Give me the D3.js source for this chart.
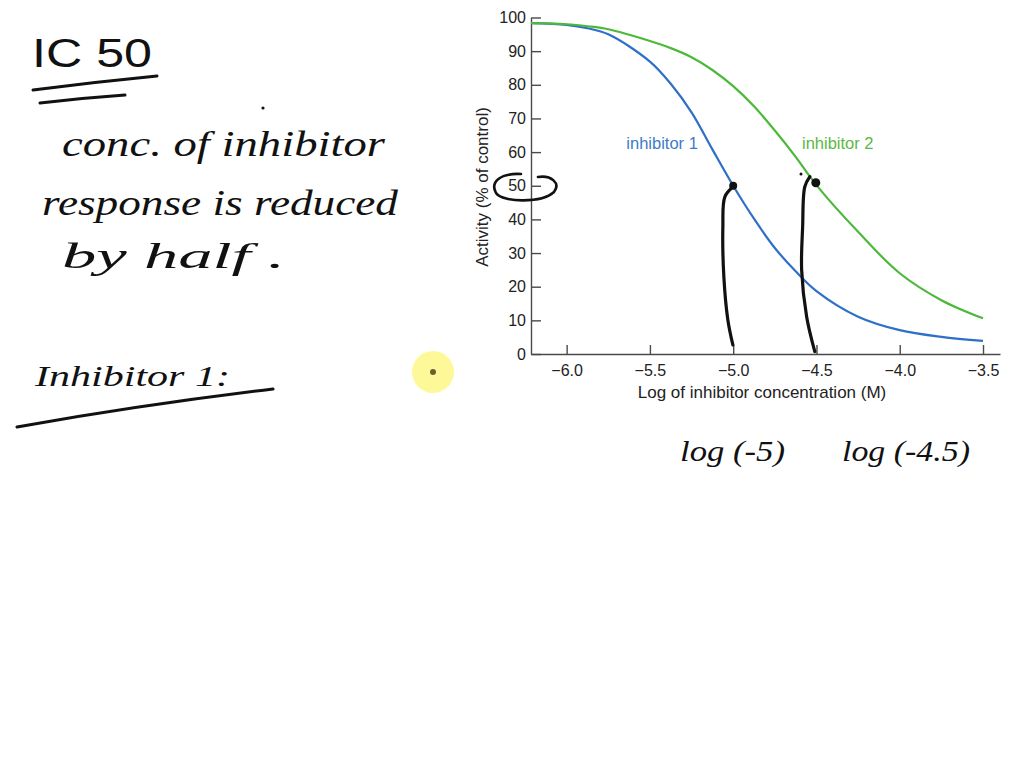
<!DOCTYPE html>
<html>
<head>
<meta charset="utf-8">
<script src="https://cdn.jsdelivr.net/npm/d3@7"></script>
<style>
  body { margin: 0; background: #fff; }
  svg { display: block; }
</style>
</head>
<body>
<svg id="chart" width="1024" height="768"></svg>
<script>
// log concentration (M) where the curves were read
var logConc = [-6.214, -6.0, -5.875, -5.75, -5.5, -5.375, -5.25, -5.125, -5.0, -4.875, -4.75, -4.625, -4.5, -4.25, -4.0, -3.75, -3.5];
// activity, % of control
var inhibitor1 = [98.3, 97.8, 96.8, 95.0, 86.9, 80.3, 71.8, 60.8, 50.0, 40.2, 31.5, 24.6, 18.7, 11.1, 7.1, 5.1, 3.9];
var inhibitor2 = [98.3, 98.0, 97.4, 96.5, 93.0, 90.9, 88.2, 84.4, 79.6, 73.6, 66.4, 58.6, 50.2, 36.3, 24.0, 16.0, 10.6];
var seriesNames = ["inhibitor 1", "inhibitor 2"];

var xTicks = [-6.0, -5.5, -5.0, -4.5, -4.0, -3.5];
var yTicks = [0, 10, 20, 30, 40, 50, 60, 70, 80, 90, 100];
var xTitle = "Log of inhibitor concentration (M)";
var yTitle = "Activity (% of control)";

// handwritten notes
var notes = ["IC 50", "conc. of inhibitor", "response is reduced", "by half .", "Inhibitor 1:", "log (-5)", "log (-4.5)"];

// ink strokes drawn over the chart, in data units
var ink1 = [[-5.002, 49.6], [-5.05, 46.7], [-5.062, 37.7], [-5.056, 22.9], [-5.032, 10.1], [-5.002, 2.7]];
var ink2 = [[-4.540, 52.7], [-4.570, 49.7], [-4.583, 37.8], [-4.589, 25.0], [-4.559, 11.1], [-4.510, 0.7]];
var inkDots = [[-5.0, 50.0, 4], [-4.504, 50.9, 4.5], [-4.593, 53.5, 1.5]];

var svg = d3.select("#chart");

var x = d3.scaleLinear().domain([-6.214, -3.398]).range([531, 1000]);
var y = d3.scaleLinear().domain([0, 100]).range([354, 17.5]);

var font = "'Liberation Sans', Arial, sans-serif";

//// axes
var yAxis = d3.axisLeft(y).tickValues(yTicks).tickSizeInner(-10).tickSizeOuter(0).tickPadding(5);
var xAxis = d3.axisBottom(x).tickValues(xTicks).tickFormat(d3.format(".1f")).tickSizeInner(-9).tickSizeOuter(0).tickPadding(10.5);

function styleAxis(g) {
    g.select(".domain").attr("stroke", "#4a4a4a").attr("stroke-width", 1.4);
    g.selectAll(".tick line").attr("stroke", "#4a4a4a").attr("stroke-width", 1.4);
    g.selectAll(".tick text").attr("fill", "#222").style("font-family", font).style("font-size", "16px");
}

svg.append("g").attr("transform", "translate(0,354)").call(xAxis).call(styleAxis);
svg.append("g").attr("transform", "translate(531,0)").call(yAxis).call(styleAxis);

svg.append("text")
    .attr("x", 762).attr("y", 398)
    .attr("text-anchor", "middle")
    .attr("fill", "#222")
    .style("font-family", font).style("font-size", "17px")
    .text(xTitle);

svg.append("text")
    .attr("transform", "translate(488,187) rotate(-90)")
    .attr("text-anchor", "middle")
    .attr("fill", "#222")
    .style("font-family", font).style("font-size", "17px")
    .text(yTitle);

//// curves
var series = [
    { name: seriesNames[0], values: inhibitor1, color: "#2e6fc8", label: "#3b7cc9", lx: -5.427 },
    { name: seriesNames[1], values: inhibitor2, color: "#4cb93a", label: "#5cb844", lx: -4.372 }
];

var line = d3.line()
    .x(function (d) { return x(d[0]); })
    .y(function (d) { return y(d[1]); })
    .curve(d3.curveCatmullRom.alpha(0.5));

series.forEach(function (s) {
    var pts = logConc.map(function (c, i) { return [c, s.values[i]]; });
    svg.append("path")
        .datum(pts)
        .attr("d", line)
        .attr("fill", "none")
        .attr("stroke", s.color)
        .attr("stroke-width", 2.2);

    svg.append("text")
        .attr("x", x(s.lx)).attr("y", y(61))
        .attr("text-anchor", "middle")
        .attr("fill", s.label)
        .style("font-family", font).style("font-size", "16.5px")
        .text(s.name);
});

//// ink annotations
var ink = svg.append("g").attr("fill", "none").attr("stroke", "#111").attr("stroke-linecap", "round");

ink.append("path")
    .attr("d", "M521,174 C500,173 490,182 496,193 C503,203 542,203 554,192 C561,183 551,175 538,177")
    .attr("stroke-width", 2.6);

var inkLine = d3.line()
    .x(function (d) { return x(d[0]); })
    .y(function (d) { return y(d[1]); })
    .curve(d3.curveCatmullRom);

[ink1, ink2].forEach(function (p) {
    ink.append("path").attr("d", inkLine(p)).attr("stroke-width", 3.2);
});

svg.selectAll(".inkdot")
    .data(inkDots)
  .enter()
    .append("circle")
    .attr("cx", function (d) { return x(d[0]); })
    .attr("cy", function (d) { return y(d[1]); })
    .attr("r", function (d) { return d[2]; })
    .attr("fill", "#111");

//// handwritten notes on the left and under the chart
var hand = "'Liberation Serif', 'DejaVu Serif', serif";
var notePos = [
    { x: 32, y: 67, size: 40, len: 120, style: "normal", fam: font },
    { x: 62, y: 156, size: 36, len: 323, style: "italic", fam: hand },
    { x: 42, y: 215, size: 36, len: 356, style: "italic", fam: hand },
    { x: 62, y: 268, size: 36, len: 223, style: "italic", fam: hand },
    { x: 35, y: 386, size: 30, len: 195, style: "italic", fam: hand },
    { x: 680, y: 461, size: 30, len: 105, style: "italic", fam: hand },
    { x: 842, y: 461, size: 30, len: 128, style: "italic", fam: hand }
];

notes.forEach(function (t, i) {
    var p = notePos[i];
    svg.append("text")
        .attr("x", p.x).attr("y", p.y)
        .attr("textLength", p.len)
        .attr("lengthAdjust", "spacingAndGlyphs")
        .attr("fill", "#111")
        .style("font-family", p.fam)
        .style("font-size", p.size + "px")
        .style("font-style", p.style)
        .text(t);
});

var pen = svg.append("g").attr("fill", "none").attr("stroke", "#111").attr("stroke-width", 3).attr("stroke-linecap", "round");
pen.append("path").attr("d", "M33,90 Q95,82 157,76");
pen.append("path").attr("d", "M40,103 Q82,98 125,95");
pen.append("path").attr("d", "M17,427 Q140,405 273,389");
svg.append("circle").attr("cx", 263).attr("cy", 108).attr("r", 1.6).attr("fill", "#111");

//// pointer
svg.append("circle").attr("cx", 433).attr("cy", 372).attr("r", 21).attr("fill", "#fdf88e").attr("opacity", 0.9);
svg.append("circle").attr("cx", 433).attr("cy", 372).attr("r", 3).attr("fill", "#6e5f2e");
</script>
</body>
</html>
